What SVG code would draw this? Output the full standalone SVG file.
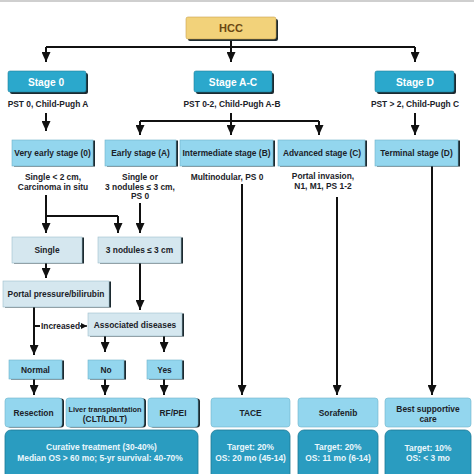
<svg xmlns="http://www.w3.org/2000/svg" width="474" height="474" viewBox="0 0 474 474">
<style>
text{font-family:"Liberation Sans",Arial,sans-serif;font-weight:bold;text-anchor:middle}
.t{font-size:8.4px;fill:#1b2228}
.tw{font-size:8.4px;fill:#eaf7fc}
.ts{font-size:10.2px;fill:#ffffff}
.sh{fill:#1c2a30}
.stage{fill:#2ba8cc;stroke:#1e7f9c;stroke-width:0.6}
.lb{fill:#93d6ee;stroke:#6fb3c9;stroke-width:0.6}
.gb{fill:#d5e7ef;stroke:#9fbfcc;stroke-width:0.6}
.dk{fill:#2a9cc0;stroke:#1d7896;stroke-width:0.8}
.c{fill:none;stroke:#111;stroke-width:2}
</style>
<defs>
<marker id="ah" markerUnits="userSpaceOnUse" markerWidth="9" markerHeight="10" refX="4.5" refY="10" orient="0" viewBox="0 0 9 10">
<path d="M0,0 L9,0 L4.5,10 z" fill="#111"/>
</marker>
<marker id="ar" markerUnits="userSpaceOnUse" markerWidth="6" markerHeight="6" refX="6" refY="3" orient="0" viewBox="0 0 6 6">
<path d="M0,0 L6,3 L0,6 z" fill="#111"/>
</marker>
</defs>
<rect x="0" y="0" width="474" height="2" fill="#cfcfcf"/>

<g id="connectors">
<path class="c" d="M231,40 V47 M46,47 H415"/>
<path class="c" d="M46,47 V62" marker-end="url(#ah)"/>
<path class="c" d="M231,47 V62" marker-end="url(#ah)"/>
<path class="c" d="M415,47 V62" marker-end="url(#ah)"/>
<path class="c" d="M46,113 V131" marker-end="url(#ah)"/>
<path class="c" d="M231,113 V121 M140,121 H319"/>
<path class="c" d="M140,121 V135" marker-end="url(#ah)"/>
<path class="c" d="M231,121 V135" marker-end="url(#ah)"/>
<path class="c" d="M319,121 V135" marker-end="url(#ah)"/>
<path class="c" d="M415,113 V135" marker-end="url(#ah)"/>
<path class="c" d="M46,195 V216 H118"/>
<path class="c" d="M46,216 V233" marker-end="url(#ah)"/>
<path class="c" d="M118,216 V233" marker-end="url(#ah)"/>
<path class="c" d="M140,203 V233" marker-end="url(#ah)"/>
<path class="c" d="M46,263 V278" marker-end="url(#ah)"/>
<path class="c" d="M140,263 V310" marker-end="url(#ah)"/>
<path class="c" d="M34,307 V355" marker-end="url(#ah)"/>
<path class="c" d="M34,326 H40"/>
<path d="M80,326 H87" stroke="#111" stroke-width="1.5" marker-end="url(#ar)"/>
<path class="c" d="M105,336 V352" marker-end="url(#ah)"/>
<path class="c" d="M164,336 V352" marker-end="url(#ah)"/>
<path class="c" d="M34,379 V395" marker-end="url(#ah)"/>
<path class="c" d="M105,379 V395" marker-end="url(#ah)"/>
<path class="c" d="M164,379 V395" marker-end="url(#ah)"/>
<path class="c" d="M242,184 V395" marker-end="url(#ah)"/>
<path class="c" d="M337,197 V395" marker-end="url(#ah)"/>
<path class="c" d="M432,166 V395" marker-end="url(#ah)"/>
<text class="t" x="60.5" y="329">Increased</text>
</g>

<g id="hcc">
<rect class="sh" x="188" y="19" width="90" height="22" rx="2"/>
<rect x="186" y="17" width="90" height="22" rx="2" fill="#f2d27a" stroke="#c9a24e" stroke-width="0.6"/>
<text x="231" y="32" font-size="11px" fill="#6a4712">HCC</text>
</g>

<g id="stage0">
<rect class="sh" x="10" y="73" width="78" height="21" rx="2"/>
<rect class="stage" x="8" y="71" width="78" height="21" rx="2"/>
<text class="ts" x="46" y="85.5">Stage 0</text>
<text class="t" x="48" y="107">PST 0, Child-Pugh A</text>
</g>
<g id="stageAC">
<rect class="sh" x="196" y="73" width="78" height="21" rx="2"/>
<rect class="stage" x="194" y="71" width="78" height="21" rx="2"/>
<text class="ts" x="233" y="85.5">Stage A-C</text>
<text class="t" x="232" y="107">PST 0-2, Child-Pugh A-B</text>
</g>
<g id="stageD">
<rect class="sh" x="377" y="73" width="79" height="21" rx="2"/>
<rect class="stage" x="375" y="71" width="79" height="21" rx="2"/>
<text class="ts" x="415" y="85.5">Stage D</text>
<text class="t" x="415" y="107">PST &gt; 2, Child-Pugh C</text>
</g>

<g id="veryearly">
<rect class="sh" x="14" y="140.5" width="81" height="26"/>
<rect class="lb" x="12" y="140" width="81" height="26"/>
<text class="t" x="52.5" y="156">Very early stage (0)</text>
<text class="t" x="53" y="180">Single &lt; 2 cm,</text>
<text class="t" x="53" y="189.5">Carcinoma in situ</text>
</g>
<g id="early">
<rect class="sh" x="107" y="140.5" width="71" height="26"/>
<rect class="lb" x="105" y="140" width="71" height="26"/>
<text class="t" x="140.5" y="156">Early stage (A)</text>
<text class="t" x="140" y="180">Single or</text>
<text class="t" x="140" y="189.5">3 nodules ≤ 3 cm,</text>
<text class="t" x="140" y="199">PS 0</text>
</g>
<g id="intermediate">
<rect class="sh" x="182" y="140.5" width="93" height="26"/>
<rect class="lb" x="180" y="140" width="93" height="26"/>
<text class="t" x="226.5" y="156">Intermediate stage (B)</text>
<text class="t" x="227" y="180">Multinodular, PS 0</text>
</g>
<g id="advanced">
<rect class="sh" x="280" y="140.5" width="87" height="26"/>
<rect class="lb" x="278" y="140" width="87" height="26"/>
<text class="t" x="322" y="156">Advanced stage (C)</text>
<text class="t" x="323" y="179">Portal invasion,</text>
<text class="t" x="323" y="188.5">N1, M1, PS 1-2</text>
</g>
<g id="terminal">
<rect class="sh" x="377" y="140.5" width="83" height="26"/>
<rect class="lb" x="375" y="140" width="83" height="26"/>
<text class="t" x="416.5" y="156">Terminal stage (D)</text>
</g>

<g id="single">
<rect class="sh" x="14" y="237.5" width="70" height="26"/>
<rect class="gb" x="12" y="237" width="70" height="26"/>
<text class="t" x="47" y="253">Single</text>
</g>
<g id="nodules">
<rect class="sh" x="100" y="237.5" width="83" height="26"/>
<rect class="gb" x="98" y="237" width="83" height="26"/>
<text class="t" x="139.5" y="253">3 nodules ≤ 3 cm</text>
</g>
<g id="portal">
<rect class="sh" x="5" y="281.5" width="106" height="26"/>
<rect class="gb" x="3" y="281" width="106" height="26"/>
<text class="t" x="56" y="297">Portal pressure/bilirubin</text>
</g>
<g id="associated">
<rect class="sh" x="90" y="313.5" width="94" height="23"/>
<rect class="gb" x="88" y="313" width="94" height="23"/>
<text class="t" x="135" y="328">Associated diseases</text>
</g>

<g id="normal">
<rect class="sh" x="11" y="360.5" width="53" height="19"/>
<rect class="lb" x="9" y="360" width="53" height="19"/>
<text class="t" x="35.5" y="372.5">Normal</text>
</g>
<g id="no">
<rect class="sh" x="90" y="360.5" width="36" height="19"/>
<rect class="lb" x="88" y="360" width="36" height="19"/>
<text class="t" x="106" y="372.5">No</text>
</g>
<g id="yes">
<rect class="sh" x="149" y="360.5" width="35" height="19"/>
<rect class="lb" x="147" y="360" width="35" height="19"/>
<text class="t" x="164.5" y="372.5">Yes</text>
</g>

<g id="resection">
<rect class="sh" x="7" y="398.5" width="57" height="29" rx="3"/>
<rect class="lb" x="5" y="398" width="57" height="29" rx="3"/>
<text class="t" x="33.5" y="416">Resection</text>
</g>
<g id="liver">
<rect class="sh" x="68" y="398.5" width="78" height="29" rx="3"/>
<rect class="lb" x="66" y="398" width="78" height="29" rx="3"/>
<text class="t" x="105" y="411.5" style="font-size:7.4px">Liver transplantation</text>
<text class="t" x="105" y="421.5">(CLT/LDLT)</text>
</g>
<g id="rfpei">
<rect class="sh" x="150" y="398.5" width="50" height="29" rx="3"/>
<rect class="lb" x="148" y="398" width="50" height="29" rx="3"/>
<text class="t" x="173" y="416">RF/PEI</text>
</g>
<g id="tace">
<rect class="lb" x="211" y="398" width="79" height="29" rx="3"/>
<text class="t" x="250.5" y="416">TACE</text>
</g>
<g id="sorafenib">
<rect class="lb" x="298" y="398" width="80" height="29" rx="3"/>
<text class="t" x="338" y="416">Sorafenib</text>
</g>
<g id="bsc">
<rect class="lb" x="385" y="398" width="86" height="29" rx="3"/>
<text class="t" x="428" y="412">Best supportive</text>
<text class="t" x="428" y="421.5">care</text>
</g>

<g id="curative">
<rect class="dk" x="5" y="430" width="193" height="52" rx="6"/>
<text class="tw" x="101.5" y="450">Curative treatment (30-40%)</text>
<text class="tw" x="100" y="460.5">Median OS &gt; 60 mo; 5-yr survival: 40-70%</text>
</g>
<g id="tace-out">
<rect class="dk" x="211" y="430" width="79" height="52" rx="6"/>
<text class="tw" x="250.5" y="450">Target: 20%</text>
<text class="tw" x="250.5" y="460.5">OS: 20 mo (45-14)</text>
</g>
<g id="sorafenib-out">
<rect class="dk" x="298" y="430" width="80" height="52" rx="6"/>
<text class="tw" x="338" y="450">Target: 20%</text>
<text class="tw" x="338" y="460.5">OS: 11 mo (6-14)</text>
</g>
<g id="bsc-out">
<rect class="dk" x="385" y="430" width="86" height="52" rx="6"/>
<text class="tw" x="428" y="450.5">Target: 10%</text>
<text class="tw" x="428" y="461">OS: &lt; 3 mo</text>
</g>
</svg>
